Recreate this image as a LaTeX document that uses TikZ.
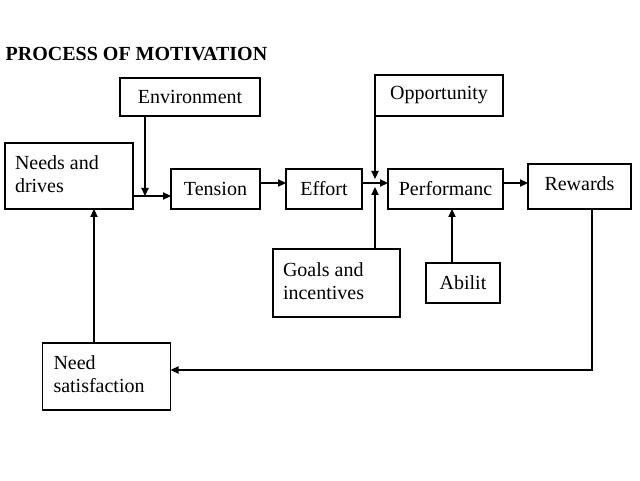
\documentclass[tikz,border=0pt]{standalone}
\usepackage{fontspec}
\setmainfont{Liberation Serif}
\usetikzlibrary{arrows.meta}
\newcommand{\twolines}[2]{\raisebox{2.5pt}{\begin{tabular}{@{}l@{}}#1\\#2\end{tabular}}}
\begin{document}
\begin{tikzpicture}[x=0.5pt,y=-0.5pt,line width=0.7pt,
        box/.style={draw,outer sep=0pt,inner xsep=5pt,font=\fontsize{10}{11.5}\selectfont},
        arr/.style={-{Triangle[length=4pt,width=3.6pt]}}]
        \useasboundingbox (0,0) rectangle (640,480);
        \node [anchor=base west,inner sep=0pt,font=\fontsize{10}{12}\selectfont\bfseries] (title) at (5,61) {PROCESS OF MOTIVATION};
        % boxes
        \node [box,minimum width=70pt,minimum height=19pt] (env) at (190,97) {Environment};
        \node [box,minimum width=64pt,minimum height=33pt,text width=54pt,align=flush left] (needs) at (69,176) {\twolines{Needs and}{drives}};
        \node [box,minimum width=44.5pt,minimum height=20pt] (tension) at (215.5,189) {Tension};
        \node [box,minimum width=38pt,minimum height=20pt] (effort) at (324,189) {Effort};
        \node [box,minimum width=64pt,minimum height=20.5pt] (opp) at (439,95.5) {\raisebox{1.5pt}{Opportunity}};
        \node [box,minimum width=57.5pt,minimum height=20pt] (perf) at (445.5,189) {Performanc};
        \node [box,minimum width=51.5pt,minimum height=22.5pt] (rewards) at (579.5,186.5) {\raisebox{3pt}{Rewards}};
        \node [box,minimum width=63.5pt,minimum height=34pt,text width=53.5pt,align=flush left] (goals) at (336.5,283) {\twolines{Goals and}{incentives}};
        \node [box,minimum width=37pt,minimum height=20pt] (abil) at (463,283) {Abilit};
        \node [box,minimum width=64pt,minimum height=33.5pt,text width=53pt,align=flush left] (needsat) at (106.5,376.5) {\twolines{Need}{satisfaction}};
        % junctions
        \coordinate (j1) at (145,196);
        \coordinate (j2) at (375,183);
        \coordinate (jt) at (375,179);
        \coordinate (jb) at (375,187);
        \coordinate (j3) at (452,0);
        \coordinate (j4) at (592,370);
        \coordinate (j5) at (94,0);
        % connectors
        \draw [arr] (env.south -| j1) -- (j1);
        \draw [arr] (needs.east |- j1) -- (tension.west |- j1);
        \draw [arr] (tension.east |- j2) -- (effort.west |- j2);
        \draw [arr] (effort.east |- j2) -- (perf.west |- j2);
        \draw [arr] (opp.south -| j2) -- (jt);
        \draw [arr] (goals.north -| j2) -- (jb);
        \draw [arr] (perf.east |- j2) -- (rewards.west |- j2);
        \draw [arr] (abil.north -| j3) -- (perf.south -| j3);
        \draw [arr] (rewards.south -| j4) -- (j4) -- (needsat.east |- j4);
        \draw [arr] (needsat.north -| j5) -- (needs.south -| j5);
\end{tikzpicture}
\end{document}
